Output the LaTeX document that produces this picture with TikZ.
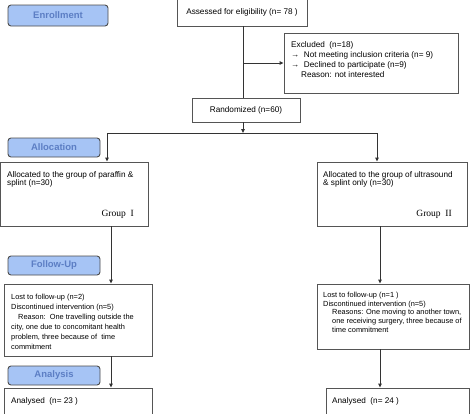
\documentclass[tikz,border=0pt]{standalone}
\usepackage{fontspec}
\setmainfont{Liberation Sans}
\newfontfamily\grpfont{Liberation Serif}
\usetikzlibrary{arrows.meta}
\definecolor{lblfill}{RGB}{166,196,245}
\definecolor{lbltext}{RGB}{92,126,196}
\definecolor{boxline}{RGB}{85,85,85}
\begin{document}
\begin{tikzpicture}[x=1pt,y=-1pt,
  box/.style={draw=boxline, line width=0.9pt, inner sep=0pt, fill=white},
  lbl/.style={draw=black!70, line width=0.9pt, rounded corners=3pt, fill=lblfill, text=lbltext,
    font=\fontsize{9.5}{11}\selectfont\bfseries, inner sep=0pt},
  txt/.style={anchor=base west, inner sep=0pt, font=\fontsize{8.2}{10}\selectfont, align=left},
  grp/.style={anchor=base east, inner sep=0pt, font=\grpfont\fontsize{9.5}{11}\selectfont},
  conn/.style={draw=black!80, line width=1pt},
  arr/.style={conn, -{Triangle[length=4pt,width=3.6pt]}},
]
\fill[white] (0,0) rectangle (474,413);
\useasboundingbox (0,0) rectangle (474,413);

% stage labels
\node[lbl, minimum width=100, minimum height=21] (enroll) at (58,15.5) {Enrollment};
\node[lbl, minimum width=92, minimum height=19] (alloc) at (54,147.5) {Allocation};
\node[lbl, minimum width=92, minimum height=19] (follow) at (54,265.5) {Follow-Up};
\node[lbl, minimum width=92, minimum height=19] (analysis) at (54,375.5) {Analysis};

% boxes
\node[box, minimum width=130, minimum height=28, font=\fontsize{8.2}{10}\selectfont] (assess) at (242,12) {Assessed for eligibility (n= 78 )};
\node[box, minimum width=174, minimum height=60] (excl) at (371,63) {};
\node[box, minimum width=108, minimum height=24, font=\fontsize{8.2}{10}\selectfont] (rand) at (246,110) {Randomized (n=60)};
\node[box, minimum width=147.5, minimum height=64] (allocL) at (74.25,194) {};
\node[box, minimum width=150, minimum height=64] (allocR) at (392,194) {};
\node[box, minimum width=148, minimum height=72] (followL) at (78,320) {};
\node[box, minimum width=152, minimum height=65] (followR) at (393,316.5) {};
\node[box, minimum width=148, minimum height=32] (anaL) at (78,404) {};
\node[box, minimum width=143, minimum height=32] (anaR) at (397.5,404) {};

% texts (base anchor = baseline of the last line)
\node[txt] (exclt) at (291,77) {Excluded~~(n=18)\\
  →~~Not meeting inclusion criteria (n= 9)\\
  →~~Declined to participate (n=9)\\
  \hspace*{10pt}Reason: not interested};
\node[txt, font=\fontsize{8.2}{8.6}\selectfont] (allocLt) at (7,185.6) {Allocated to the group of paraffin \&\\ splint (n=30)};
\node[txt, font=\fontsize{8.2}{8.6}\selectfont] (allocRt) at (323,185.6) {Allocated to the group of ultrasound\\ \& splint only (n=30)};
\node[grp] (grpI) at (134,216) {Group~~I};
\node[grp] (grpII) at (452,216) {Group~~II};
\node[txt, font=\fontsize{7.4}{9.9}\selectfont] (followLt) at (11,349) {Lost to follow-up (n=2)\\
  Discontinued intervention (n=5)\\
  \hspace*{7pt}Reason:~~One travelling outside the\\
  city, one due to concomitant health\\
  problem, three because of~~time\\
  commitment};
\node[txt, font=\fontsize{7.4}{8.7}\selectfont] (followRt) at (323,332.3) {Lost to follow-up (n=1 )\\
  Discontinued intervention (n=5)\\
  \hspace*{9pt}Reasons: One moving to another town,\\
  \hspace*{9pt}one receiving surgery, three because of\\
  \hspace*{9pt}time commitment};
\node[txt] (anaLt) at (11,403) {Analysed~~(n= 23 )};
\node[txt] (anaRt) at (332,403) {Analysed~~(n= 24 )};

% connector coordinates
\coordinate (trunk) at (243,0);
\coordinate (split) at (0,133);
\coordinate (sl) at (107,0);
\coordinate (sr) at (377,0);
\coordinate (cl) at (111,0);
\coordinate (cr) at (380,0);

\draw[conn] (assess.south -| trunk) -- (rand.north -| trunk);
\draw[arr] (trunk |- excl.west) -- (excl.west);
\draw[arr] (rand.south -| trunk) -- (trunk |- split);
\draw[conn] (sl |- split) -- (sr |- split);
\draw[arr] (sl |- split) -- (allocL.north -| sl);
\draw[arr] (sr |- split) -- (allocR.north -| sr);
\draw[arr] (allocL.south -| cl) -- (followL.north -| cl);
\draw[arr] (followL.south -| cl) -- (anaL.north -| cl);
\draw[arr] (allocR.south -| cr) -- (followR.north -| cr);
\draw[arr] (followR.south -| cr) -- (anaR.north -| cr);
\end{tikzpicture}
\end{document}
